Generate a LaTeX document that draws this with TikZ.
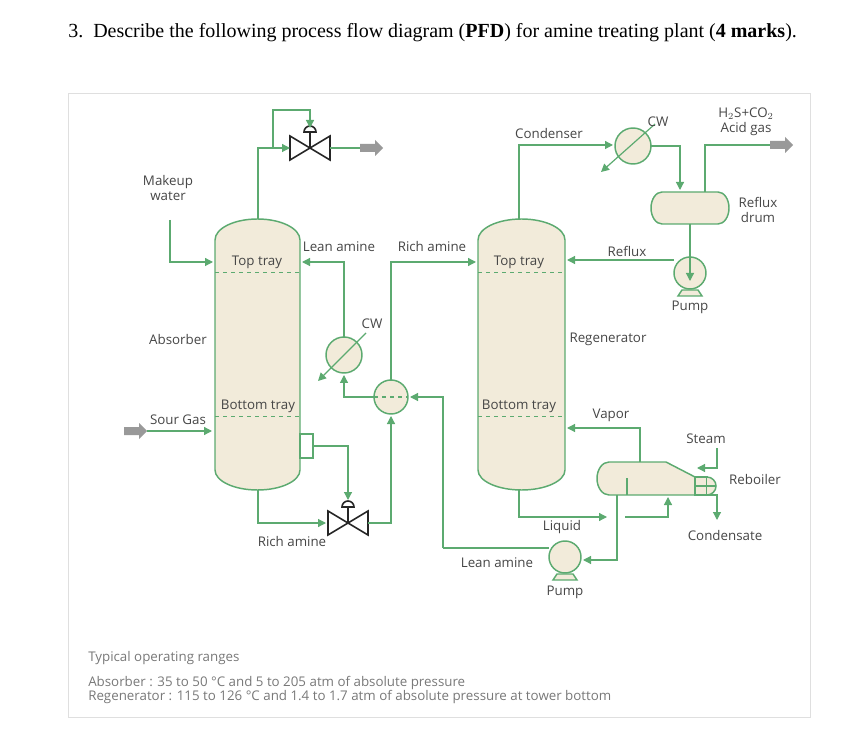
\documentclass[tikz,border=0pt]{standalone}
\usepackage{fontspec}
\setmainfont{Liberation Serif}
\newfontfamily\lbl{Open Sans}
\usetikzlibrary{arrows.meta}
\definecolor{pipe}{RGB}{92,170,112}
\definecolor{eqfill}{RGB}{242,235,218}
\definecolor{txt}{RGB}{70,70,70}
\definecolor{gtxt}{RGB}{120,120,120}
\tikzset{
  line/.style={pipe, line width=0.9pt},
  flow/.style={line, -{Triangle[length=6pt,width=6pt]}},
  equip/.style={pipe, line width=1.1pt, fill=eqfill},
  lab/.style={font=\lbl\fontsize{10}{11}\selectfont, text=txt, align=center, inner sep=0pt},
  tray/.style={pipe, dashed, line width=0.6pt},
  valve/.style={black!85, line width=1.2pt, fill=white},
}
\begin{document}
\begin{tikzpicture}[x=0.75pt,y=-0.75pt]
\useasboundingbox (0,0) rectangle (853,741);
% title
\node[anchor=west, inner sep=0pt, font=\fontsize{15}{17}\selectfont] at (68,33)
  {3.\enspace Describe the following process flow diagram (\textbf{PFD}) for amine treating plant (\textbf{4 marks}).};
\draw[gray!25, line width=0.6pt] (68,93) rectangle (810,717);

% ---- absorber
\draw[equip] (215,470) -- (215,240) arc[start angle=180,end angle=360,x radius=42.5,y radius=21] -- (300,470)
  arc[start angle=0,end angle=180,x radius=42.5,y radius=20] -- cycle;
\coordinate (abstop) at (258,219);
\coordinate (absbot) at (258,490);
\draw[tray] (215,272) -- (300,272);
\draw[tray] (215,416) -- (300,416);
\node[lab] at (257,262) {Top tray};
\node[lab] at (258,406) {Bottom tray};
\draw[equip, line width=0.9pt, fill=white] (300,434) rectangle (313,458);

% ---- regenerator
\draw[equip] (478,470) -- (478,240) arc[start angle=180,end angle=360,x radius=43.5,y radius=21] -- (565,470)
  arc[start angle=0,end angle=180,x radius=43.5,y radius=20] -- cycle;
\draw[tray] (478,272) -- (565,272);
\draw[tray] (478,416) -- (565,416);
\node[lab] at (519,262) {Top tray};
\node[lab] at (519,406) {Bottom tray};

% ---- valves
\foreach \vx/\vy/\nm in {310/148/vtop, 348/523/vbot}{
  \draw[valve] (\vx-20,\vy-12) -- (\vx+20,\vy+12) -- (\vx+20,\vy-12) -- (\vx-20,\vy+12) -- cycle;
  \draw[valve] (\vx,\vy) -- (\vx,\vy-16);
  \draw[valve] (\vx-6,\vy-16) arc[start angle=180,end angle=360,radius=6] -- cycle;
  \coordinate (\nm) at (\vx,\vy);
}

% ---- heat exchangers, pumps
\draw[equip] (344,355) circle[radius=18];
\draw[flow] (366,333) -- (318,381);
\draw[equip] (391,397) circle[radius=17];
\draw[tray, line width=0.9pt] (374,397) -- (408,397);
\draw[equip] (633,146) circle[radius=18];
\draw[flow] (655,124) -- (601,172);
% pumps
\draw[equip] (682,290) -- (698,290) -- (702,296) -- (678,296) -- cycle;
\draw[equip] (690,273) circle[radius=16];
\draw[equip] (557,574) -- (573,574) -- (577,580) -- (553,580) -- cycle;
\draw[equip] (565,557) circle[radius=16];

% ---- reflux drum
\draw[equip] (662,192) -- (718,192) arc[start angle=-90,end angle=90,x radius=11,y radius=16]
  -- (662,224) arc[start angle=90,end angle=270,x radius=11,y radius=16] -- cycle;

% ---- reboiler
\draw[equip] (609,462) -- (666,462) -- (695,477) -- (695,495) -- (609,495)
  arc[start angle=90,end angle=270,x radius=12,y radius=16.5] -- cycle;
\draw[line] (627,495) -- (627,478);
\draw[equip] (695,477) rectangle (707,495);
\draw[equip] (707,477) arc[start angle=-90,end angle=90,radius=9];
\draw[pipe, line width=1pt] (695,486) -- (716,486);

% ---- piping
\draw[line] (abstop) -- (258,148) -- (273,148);
\draw[flow] (273,148) -- (290,148);
\draw[flow] (273,148) -- (273,110) -- (310,110) -- (310,128);
\draw[line] (330,148) -- (362,148);
\fill[gray!80] (360,144) -- (375,144) -- (375,140) -- (383,148) -- (375,156) -- (375,152) -- (360,152) -- cycle;
\draw[flow] (170,220) -- (170,262) -- (213,262);
\fill[gray!80] (124,427) -- (139,427) -- (139,423) -- (147,431) -- (139,439) -- (139,435) -- (124,435) -- cycle;
\draw[flow] (147,431) -- (212,431);
\draw[flow] (313,446) -- (348,446) -- (348,500);
\draw[flow] (absbot) -- (258,523) -- (326,523);
\draw[flow] (368,523) -- (391,523) -- (391,416);
\draw[flow] (391,380) -- (391,262) -- (476,262);
\draw[flow] (374,397) -- (344,397) -- (344,375);
\draw[flow] (344,337) -- (344,262) -- (302,262);
\draw[flow] (443,548) -- (443,397) -- (410,397);
\draw[line] (443,548) -- (549,548);
\draw[flow] (617,495) -- (617,560) -- (583,560);
\draw[flow] (519,219) -- (519,145) -- (613,145);
\draw[flow] (651,146) -- (680,146) -- (680,190);
\draw[line] (705,192) -- (705,145) -- (772,145);
\fill[gray!80] (770,141) -- (785,141) -- (785,137) -- (793,145) -- (785,153) -- (785,149) -- (770,149) -- cycle;
\draw[flow] (690,224) -- (690,281);
\draw[flow] (674,260) -- (567,260);
\draw[flow] (640,462) -- (640,428) -- (567,428);
\draw[flow] (519,490) -- (519,517) -- (607,517);
\draw[flow] (625,517) -- (668,517) -- (668,497);
\draw[flow] (717,448) -- (717,468) -- (697,468);
\draw[flow] (707,495) -- (717,495) -- (717,520);

% ---- labels
\node[lab] at (168,188) {Makeup\\water};
\node[lab] at (178,340) {Absorber};
\node[lab] at (178,420) {Sour Gas};
\node[lab] at (339,247) {Lean amine};
\node[lab] at (432,247) {Rich amine};
\node[lab] at (372,324) {CW};
\node[lab] at (292,541) {Rich amine};
\node[lab] at (497,563) {Lean amine};
\node[lab] at (565,592) {Pump};
\node[lab] at (549,134) {Condenser};
\node[lab] at (658,122) {CW};
\node[lab] at (746,122) {H$_2$S+CO$_2$\\Acid gas};
\node[lab] at (758,210) {Reflux\\drum};
\node[lab] at (627,251) {Reflux};
\node[lab] at (690,307) {Pump};
\node[lab] at (608,339) {Regenerator};
\node[lab] at (611,415) {Vapor};
\node[lab] at (706,439) {Steam};
\node[lab] at (755,479) {Reboiler};
\node[lab] at (725,535) {Condensate};
\node[lab] at (562,527) {Liquid};
\node[lab, anchor=west, text=gtxt] at (88,658) {Typical operating ranges};
\node[lab, anchor=west, text=gtxt, align=left] at (88,690)
  {Absorber : 35 to 50 °C and 5 to 205 atm of absolute pressure\\Regenerator : 115 to 126 °C and 1.4 to 1.7 atm of absolute pressure at tower bottom};
\end{tikzpicture}
\end{document}
